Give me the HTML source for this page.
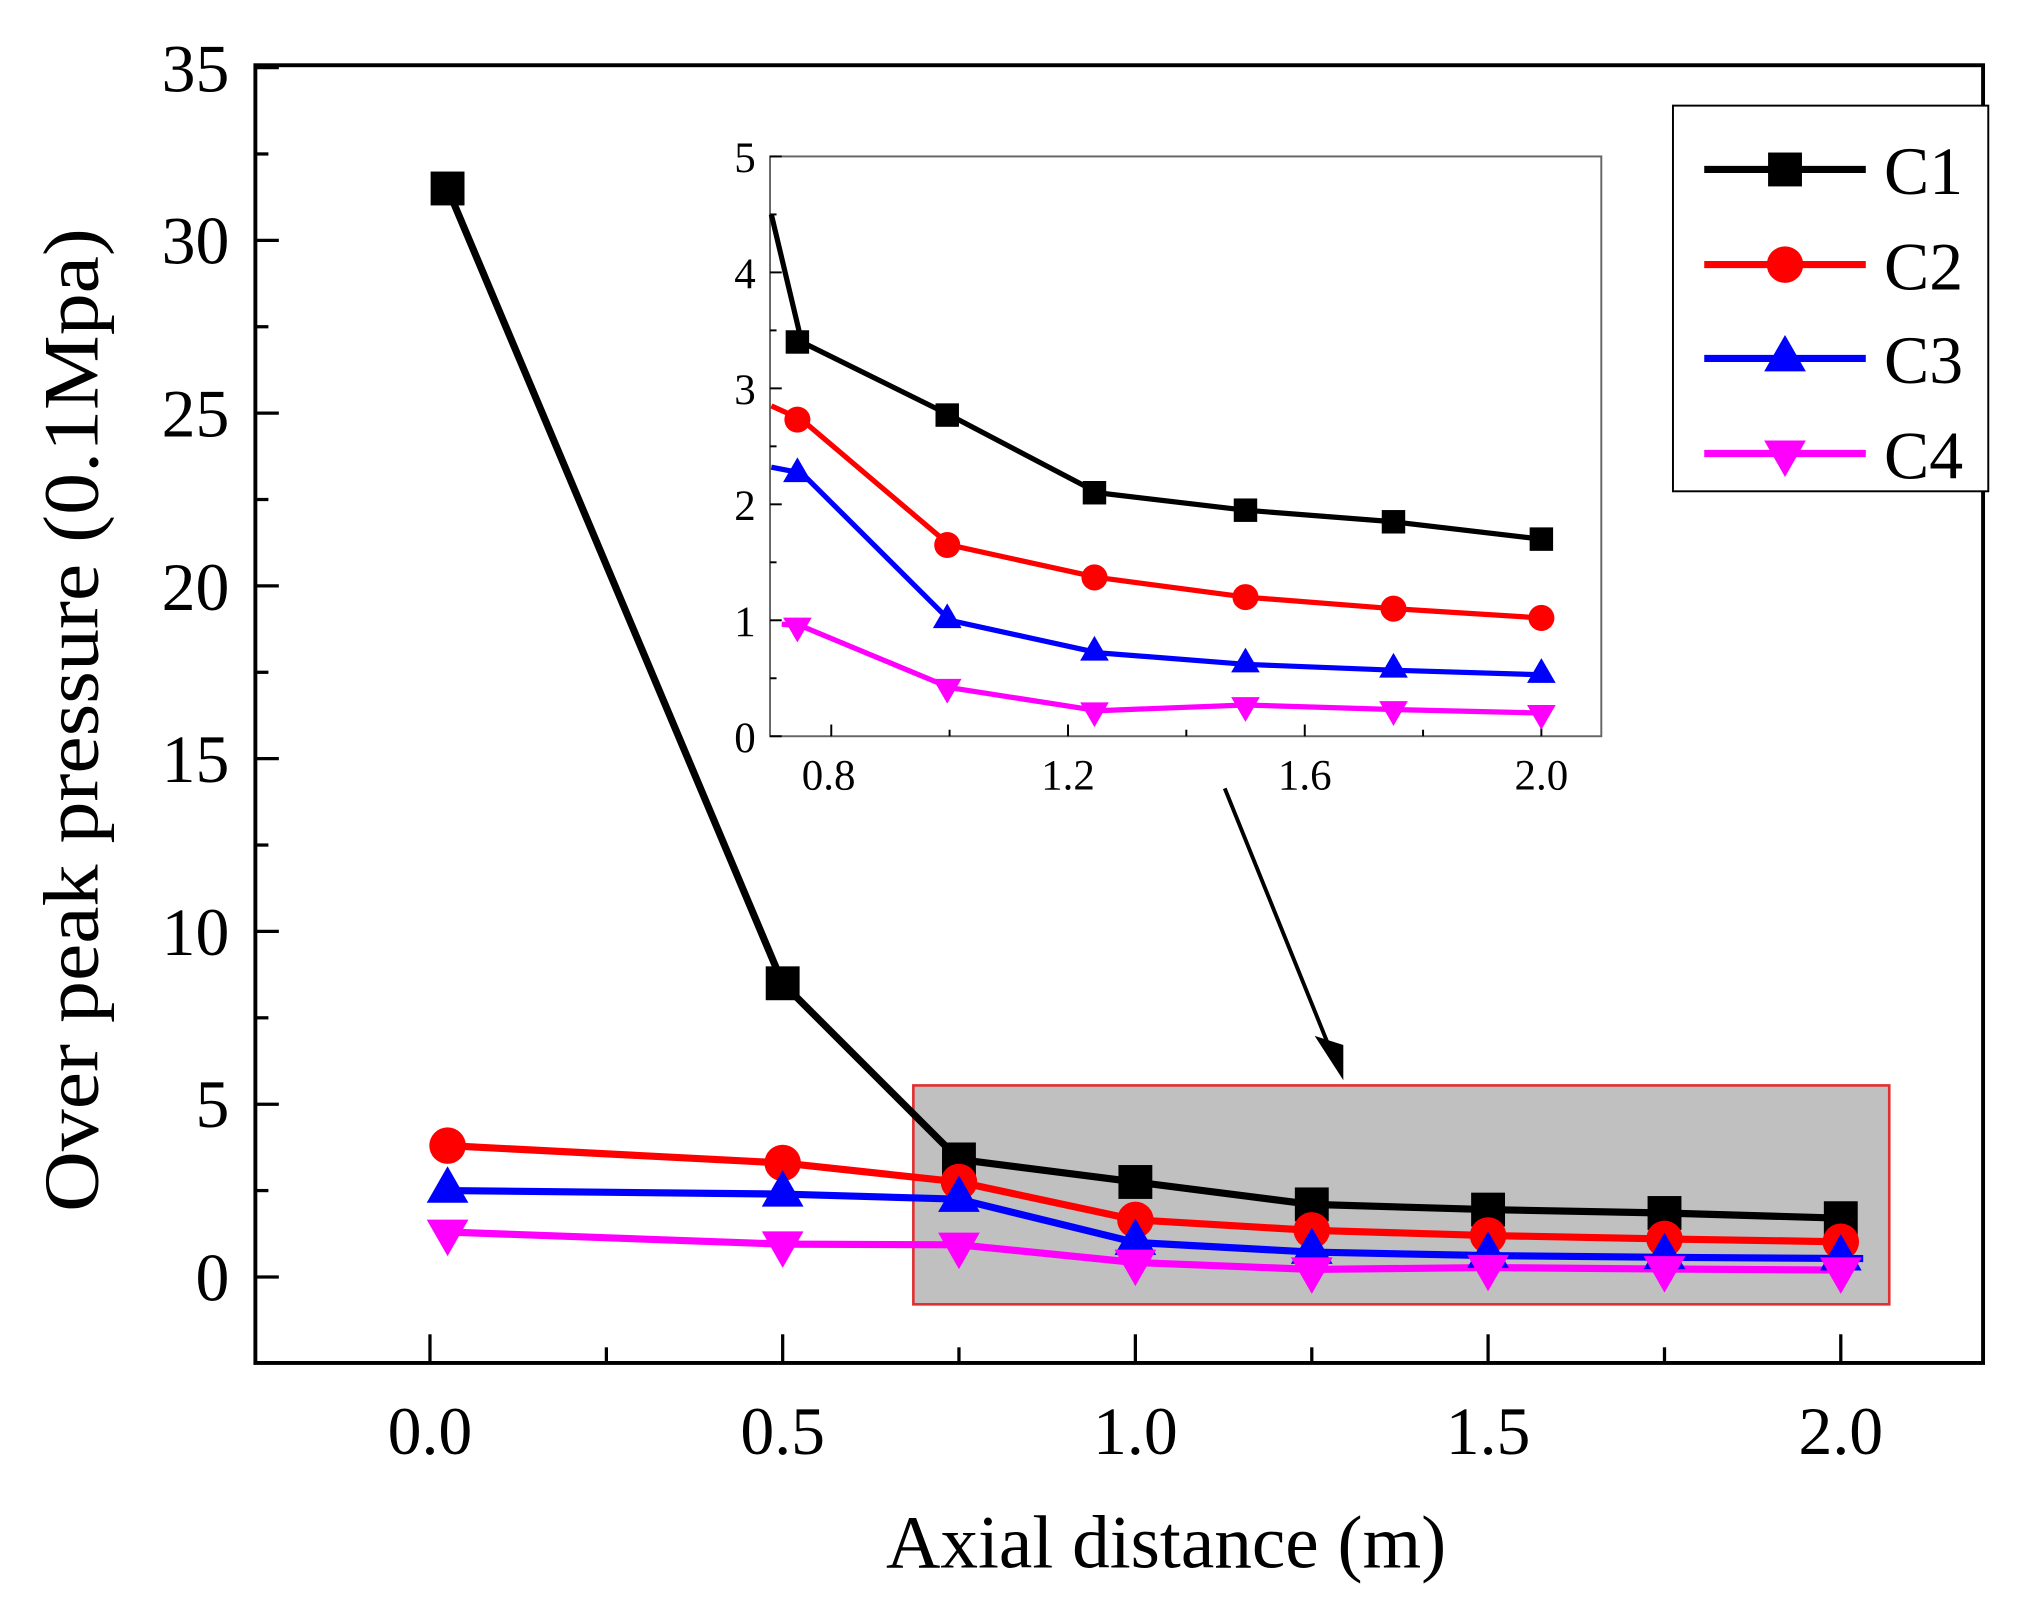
<!DOCTYPE html>
<html><head><meta charset="utf-8"><style>html,body{margin:0;padding:0;background:#fff}svg{display:block}</style></head>
<body>
<svg width="2043" height="1608" viewBox="0 0 1568 1234" xmlns="http://www.w3.org/2000/svg" font-family="Liberation Serif, serif">
<defs>
<rect id="sq" x="-13" y="-13" width="26" height="26" fill="#000"/>
<circle id="ci" r="14" fill="#f00"/>
<path id="tu" d="M0,-16 L16,12 L-16,12Z" fill="#00f"/>
<path id="td" d="M0,16 L16,-12 L-16,-12Z" fill="#f0f"/>
<rect id="sqs" x="-9" y="-9" width="18" height="18" fill="#000"/>
<circle id="cis" r="10" fill="#f00"/>
<path id="tus" d="M0,-11 L11,8 L-11,8Z" fill="#00f"/>
<path id="tds" d="M0,11 L11,-8 L-11,-8Z" fill="#f0f"/>
</defs>
<rect x="196" y="50" width="1326" height="996" fill="none" stroke="#000" stroke-width="3"/>
<rect x="701" y="833" width="749" height="168" fill="#c0c0c0" stroke="#e03030" stroke-width="2"/>
<g stroke="#000" stroke-width="2.5">
<line x1="196" y1="980" x2="214" y2="980"/><line x1="196" y1="847.4" x2="214" y2="847.4"/><line x1="196" y1="714.8" x2="214" y2="714.8"/><line x1="196" y1="582.2" x2="214" y2="582.2"/><line x1="196" y1="449.6" x2="214" y2="449.6"/><line x1="196" y1="317" x2="214" y2="317"/><line x1="196" y1="184.4" x2="214" y2="184.4"/><line x1="196" y1="51.8" x2="214" y2="51.8"/>
<line x1="196" y1="913.7" x2="206" y2="913.7"/><line x1="196" y1="781.1" x2="206" y2="781.1"/><line x1="196" y1="648.5" x2="206" y2="648.5"/><line x1="196" y1="515.9" x2="206" y2="515.9"/><line x1="196" y1="383.3" x2="206" y2="383.3"/><line x1="196" y1="250.7" x2="206" y2="250.7"/><line x1="196" y1="118.1" x2="206" y2="118.1"/>
<line x1="330" y1="1046" x2="330" y2="1024"/><line x1="600.7" y1="1046" x2="600.7" y2="1024"/><line x1="871.4" y1="1046" x2="871.4" y2="1024"/><line x1="1142.1" y1="1046" x2="1142.1" y2="1024"/><line x1="1412.8" y1="1046" x2="1412.8" y2="1024"/>
<line x1="465.4" y1="1046" x2="465.4" y2="1034"/><line x1="736" y1="1046" x2="736" y2="1034"/><line x1="1006.8" y1="1046" x2="1006.8" y2="1034"/><line x1="1277.5" y1="1046" x2="1277.5" y2="1034"/>
</g>
<g font-size="52" text-anchor="end">
<text x="176" y="998">0</text><text x="176" y="865">5</text><text x="176" y="733">10</text><text x="176" y="600">15</text><text x="176" y="468">20</text><text x="176" y="335">25</text><text x="176" y="202">30</text><text x="176" y="70">35</text>
</g>
<g font-size="52" text-anchor="middle">
<text x="330" y="1116">0.0</text><text x="600.7" y="1116">0.5</text><text x="871.4" y="1116">1.0</text><text x="1142.1" y="1116">1.5</text><text x="1412.8" y="1116">2.0</text>
</g>
<text x="680" y="1203" font-size="58" textLength="430" lengthAdjust="spacingAndGlyphs">Axial distance (m)</text>
<text transform="translate(75,930) rotate(-90)" font-size="60" textLength="755" lengthAdjust="spacingAndGlyphs">Over peak pressure (0.1Mpa)</text>
<g fill="none" stroke-width="5.5" stroke-linejoin="round">
<polyline stroke="#000" points="343.5,144.6 600.7,754.6 736,889.8 871.4,907.1 1006.8,924.3 1142.1,928.3 1277.5,930.9 1412.8,934.9"/>
<polyline stroke="#f00" points="343.5,879.2 600.7,892.5 736,907.1 871.4,936.2 1006.8,944.2 1142.1,948.2 1277.5,950.8 1412.8,953"/>
<polyline stroke="#00f" points="343.5,913.7 600.7,916.4 736,920.3 871.4,953.5 1006.8,960.9 1142.1,963.6 1277.5,964.9 1430,965.9"/>
<polyline stroke="#f0f" points="343.5,945.5 600.7,954.8 736,955.3 871.4,968.9 1006.8,974.2 1142.1,972.8 1277.5,973.9 1412.8,974.7"/>
</g>
<use href="#sq" x="343.5" y="144.6"/><use href="#sq" x="600.7" y="754.6"/><use href="#sq" x="736" y="889.8"/><use href="#sq" x="871.4" y="907.1"/><use href="#sq" x="1006.8" y="924.3"/><use href="#sq" x="1142.1" y="928.3"/><use href="#sq" x="1277.5" y="930.9"/><use href="#sq" x="1412.8" y="934.9"/>
<use href="#ci" x="343.5" y="879.2"/><use href="#ci" x="600.7" y="892.5"/><use href="#ci" x="736" y="907.1"/><use href="#ci" x="871.4" y="936.2"/><use href="#ci" x="1006.8" y="944.2"/><use href="#ci" x="1142.1" y="948.2"/><use href="#ci" x="1277.5" y="950.8"/><use href="#ci" x="1412.8" y="953"/>
<use href="#tu" x="343.5" y="911"/><use href="#tu" x="600.7" y="914"/><use href="#tu" x="736" y="918"/><use href="#tu" x="871.4" y="951"/><use href="#tu" x="1006.8" y="958"/><use href="#tu" x="1142.1" y="961"/><use href="#tu" x="1277.5" y="962"/><use href="#tu" x="1412.8" y="963"/>
<use href="#td" x="343.5" y="948"/><use href="#td" x="600.7" y="957"/><use href="#td" x="736" y="958"/><use href="#td" x="871.4" y="971"/><use href="#td" x="1006.8" y="977"/><use href="#td" x="1142.1" y="975"/><use href="#td" x="1277.5" y="976"/><use href="#td" x="1412.8" y="977"/>
<line x1="940" y1="605" x2="1022" y2="808" stroke="#000" stroke-width="3"/>
<path d="M1031,829 L1009,795 L1031,802 Z" fill="#000"/>
<rect x="591" y="120" width="638" height="445" fill="#fff" stroke="#666" stroke-width="1.5"/>
<g stroke="#000" stroke-width="1.5">
<line x1="591" y1="565" x2="600" y2="565"/><line x1="591" y1="476" x2="600" y2="476"/><line x1="591" y1="387" x2="600" y2="387"/><line x1="591" y1="298" x2="600" y2="298"/><line x1="591" y1="209" x2="600" y2="209"/><line x1="591" y1="120" x2="600" y2="120"/>
<line x1="591" y1="520.5" x2="596" y2="520.5"/><line x1="591" y1="431.5" x2="596" y2="431.5"/><line x1="591" y1="342.5" x2="596" y2="342.5"/><line x1="591" y1="253.5" x2="596" y2="253.5"/><line x1="591" y1="164.5" x2="596" y2="164.5"/>
<line x1="638" y1="565" x2="638" y2="556"/><line x1="819.7" y1="565" x2="819.7" y2="556"/><line x1="1001.4" y1="565" x2="1001.4" y2="556"/><line x1="1183" y1="565" x2="1183" y2="556"/>
<line x1="728.8" y1="565" x2="728.8" y2="560"/><line x1="910.5" y1="565" x2="910.5" y2="560"/><line x1="1092.2" y1="565" x2="1092.2" y2="560"/>
</g>
<g font-size="33" text-anchor="end">
<text x="580" y="577">0</text><text x="580" y="488">1</text><text x="580" y="399">2</text><text x="580" y="310">3</text><text x="580" y="221">4</text><text x="580" y="132">5</text>
</g>
<g font-size="33" text-anchor="middle">
<text x="636" y="606">0.8</text><text x="819.7" y="606">1.2</text><text x="1001.4" y="606">1.6</text><text x="1183" y="606">2.0</text>
</g>
<g fill="none" stroke-width="4" stroke-linejoin="round">
<polyline stroke="#000" points="592,164.5 615.3,262.4 728.8,318.5 842.4,378.1 955.9,391.5 1069.5,400.4 1183,413.7"/>
<polyline stroke="#f00" points="592,311.4 615.3,322 728.8,418.2 842.4,443.1 955.9,458.2 1069.5,467.1 1183,474.2"/>
<polyline stroke="#00f" points="592,358.5 615.3,363 728.8,476 842.4,500.9 955.9,509.8 1069.5,514.3 1183,517.8"/>
<polyline stroke="#f0f" points="600,479 615.3,480.5 728.8,527.6 842.4,545.4 955.9,541 1069.5,544.5 1183,547.2"/>
</g>
<use href="#sqs" x="612" y="262.4"/><use href="#sqs" x="727" y="318.5"/><use href="#sqs" x="840" y="378.1"/><use href="#sqs" x="955.9" y="391.5"/><use href="#sqs" x="1069.5" y="400.4"/><use href="#sqs" x="1183" y="413.7"/>
<use href="#cis" x="612" y="322"/><use href="#cis" x="727" y="418.2"/><use href="#cis" x="840" y="443.1"/><use href="#cis" x="955.9" y="458.2"/><use href="#cis" x="1069.5" y="467.1"/><use href="#cis" x="1183" y="474.2"/>
<use href="#tus" x="612" y="362"/><use href="#tus" x="727" y="474"/><use href="#tus" x="840" y="499"/><use href="#tus" x="955.9" y="508"/><use href="#tus" x="1069.5" y="512"/><use href="#tus" x="1183" y="516"/>
<use href="#tds" x="612" y="482"/><use href="#tds" x="727" y="529"/><use href="#tds" x="840" y="547"/><use href="#tds" x="955.9" y="543"/><use href="#tds" x="1069.5" y="546"/><use href="#tds" x="1183" y="549"/>
<rect x="1284" y="81" width="242" height="296" fill="#fff" stroke="#000" stroke-width="1.5"/>
<g stroke-width="5.5">
<line x1="1308" y1="130" x2="1432" y2="130" stroke="#000"/>
<line x1="1308" y1="203" x2="1432" y2="203" stroke="#f00"/>
<line x1="1308" y1="275" x2="1432" y2="275" stroke="#00f"/>
<line x1="1308" y1="348" x2="1432" y2="348" stroke="#f0f"/>
</g>
<use href="#sq" x="1370" y="130"/><use href="#ci" x="1370" y="203"/><use href="#tu" x="1370" y="273"/><use href="#td" x="1370" y="350"/>
<g font-size="52">
<text x="1446" y="149">C1</text><text x="1446" y="222">C2</text><text x="1446" y="294">C3</text><text x="1446" y="367">C4</text>
</g>
</svg>
</body></html>
